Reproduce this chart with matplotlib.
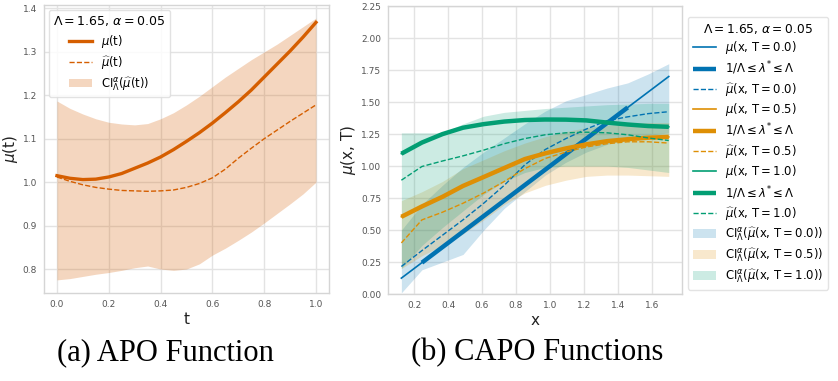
import numpy as np
import matplotlib
matplotlib.use("Agg")
import matplotlib.pyplot as plt

# ---------------- data: (a) APO function ----------------
t_vals = [0.0, 0.05, 0.1, 0.15, 0.2, 0.25, 0.3, 0.35, 0.4, 0.45, 0.5,
          0.55, 0.6, 0.65, 0.7, 0.75, 0.8, 0.85, 0.9, 0.95, 1.0]
mu_t = [1.015, 1.009, 1.006, 1.007, 1.012, 1.020, 1.032, 1.044, 1.058, 1.075, 1.094,
        1.114, 1.136, 1.160, 1.185, 1.212, 1.242, 1.272, 1.302, 1.334, 1.368]
mu_hat_t = [1.012, 1.002, 0.994, 0.988, 0.984, 0.981, 0.980, 0.979, 0.980, 0.982, 0.988,
            0.997, 1.010, 1.030, 1.055, 1.078, 1.100, 1.120, 1.140, 1.159, 1.178]
ci_low_t = [0.775, 0.778, 0.783, 0.788, 0.792, 0.797, 0.803, 0.807, 0.800, 0.797, 0.800,
            0.812, 0.832, 0.848, 0.866, 0.885, 0.906, 0.928, 0.950, 0.973, 1.000]
ci_high_t = [1.187, 1.170, 1.157, 1.146, 1.138, 1.134, 1.132, 1.135, 1.146, 1.160, 1.178,
             1.198, 1.220, 1.242, 1.262, 1.282, 1.300, 1.318, 1.338, 1.358, 1.378]

# ---------------- data: (b) CAPO functions ----------------
x_vals = [0.125, 0.246, 0.367, 0.488, 0.610, 0.731, 0.852, 0.973, 1.094, 1.215, 1.337, 1.458, 1.579, 1.700]
T_labels = ["0.0", "0.5", "1.0"]

mu_T0 = [0.125, 0.246, 0.367, 0.488, 0.610, 0.731, 0.852, 0.973, 1.094, 1.215, 1.337, 1.458, 1.579, 1.700]
bound_T0 = [np.nan, 0.246, 0.367, 0.488, 0.610, 0.731, 0.852, 0.973, 1.094, 1.215, 1.337, 1.458, np.nan, np.nan]
hat_T0 = [0.216, 0.340, 0.460, 0.580, 0.710, 0.850, 1.010, 1.130, 1.215, 1.290, 1.355, 1.385, 1.410, 1.425]
lo_T0 = [0.010, 0.190, 0.250, 0.310, 0.500, 0.670, 0.800, 0.930, 1.030, 1.110, 1.170, 1.210, 1.240, 1.260]
hi_T0 = [0.500, 0.700, 0.850, 0.990, 1.110, 1.220, 1.330, 1.430, 1.510, 1.560, 1.610, 1.650, 1.720, 1.800]

mu_T5 = [0.604, 0.685, 0.760, 0.845, 0.915, 0.985, 1.055, 1.100, 1.138, 1.170, 1.195, 1.210, 1.222, 1.228]
bound_T5 = [0.604, 0.685, 0.760, 0.845, 0.915, 0.985, 1.055, 1.100, 1.138, 1.170, 1.195, 1.210, 1.222, 1.228]
hat_T5 = [0.400, 0.580, 0.640, 0.710, 0.790, 0.880, 0.980, 1.060, 1.110, 1.150, 1.175, 1.190, 1.190, 1.180]
lo_T5 = [0.200, 0.300, 0.380, 0.470, 0.580, 0.700, 0.790, 0.850, 0.890, 0.920, 0.930, 0.930, 0.925, 0.920]
hi_T5 = [0.730, 0.800, 0.880, 0.980, 1.050, 1.120, 1.180, 1.230, 1.270, 1.300, 1.320, 1.330, 1.340, 1.340]

mu_T1 = [1.097, 1.184, 1.250, 1.300, 1.328, 1.348, 1.360, 1.364, 1.363, 1.357, 1.340, 1.325, 1.313, 1.307]
bound_T1 = [1.097, 1.184, 1.250, 1.300, 1.328, 1.348, 1.360, 1.364, 1.363, 1.357, 1.340, 1.325, 1.313, 1.307]
hat_T1 = [0.890, 0.997, 1.040, 1.080, 1.125, 1.175, 1.215, 1.245, 1.260, 1.265, 1.260, 1.245, 1.220, 1.200]
lo_T1 = [0.200, 0.380, 0.520, 0.650, 0.780, 0.880, 0.950, 0.990, 1.000, 1.000, 1.000, 0.990, 0.970, 0.950]
hi_T1 = [1.260, 1.260, 1.260, 1.330, 1.390, 1.420, 1.435, 1.450, 1.460, 1.470, 1.480, 1.485, 1.490, 1.490]

# ---------------- style ----------------
plt.rcParams.update({
    "font.family": ["DejaVu Sans"],
    "axes.edgecolor": "#d5d5d5",
    "axes.linewidth": 1.0,
    "grid.color": "#e3e3e3",
    "grid.linewidth": 1.0,
    "xtick.color": "#555555",
    "ytick.color": "#555555",
    "xtick.labelsize": 6.5,
    "ytick.labelsize": 6.5,
    "xtick.major.size": 0,
    "ytick.major.size": 0,
    "xtick.major.pad": 5,
    "ytick.major.pad": 5,
    "axes.labelcolor": "#222222",
    "legend.edgecolor": "#dddddd",
})

c_red = "#d55e00"
colors = ["#0173b2", "#de8f05", "#029e73"]

fig = plt.figure(figsize=(8.38, 3.81), dpi=100)
ax1 = fig.add_axes([0.0525, 0.231, 0.340, 0.756])
ax2 = fig.add_axes([0.463, 0.228, 0.351, 0.756])

for ax in (ax1, ax2):
    ax.grid(True)
    ax.set_axisbelow(True)

# ---- (a) ----
ax1.plot(t_vals, mu_t, color=c_red, lw=2.4, label=r"$\mu$(t)")
ax1.plot(t_vals, mu_hat_t, color=c_red, lw=1.0, ls="--", label=r"$\widehat{\mu}$(t)")
ax1.fill_between(t_vals, ci_low_t, ci_high_t, color=c_red, alpha=0.25, lw=0,
                 label=r"CI$^{\alpha}_{\Lambda}(\widehat{\mu}$(t))")
ax1.set_xticks([0.0, 0.2, 0.4, 0.6, 0.8, 1.0])
ax1.set_yticks([0.8, 0.9, 1.0, 1.1, 1.2, 1.3, 1.4])
ax1.set_xlabel("t", fontsize=11, labelpad=2)
ax1.set_ylabel(r"$\mu$(t)", fontsize=11, labelpad=2)
ax1.legend(title=r"$\Lambda=1.65$, $\alpha=0.05$", loc="upper left", fontsize=8.3,
           title_fontsize=9.0, frameon=True, fancybox=True, framealpha=0.85,
           borderaxespad=0.4, labelspacing=0.38)

# ---- (b) ----
mus = [mu_T0, mu_T5, mu_T1]
bounds = [bound_T0, bound_T5, bound_T1]
hats = [hat_T0, hat_T5, hat_T1]
los = [lo_T0, lo_T5, lo_T1]
his = [hi_T0, hi_T5, hi_T1]

line_handles = []
fill_handles = []
for i in range(3):
    c = colors[i]
    h1, = ax2.plot(x_vals, mus[i], color=c, lw=1.2, label=r"$\mu$(x, T$=$" + T_labels[i] + ")")
    h2, = ax2.plot(x_vals, bounds[i], color=c, lw=3.2, solid_capstyle="butt",
                   label=r"$1/\Lambda \leq \lambda^{*} \leq \Lambda$")
    h3, = ax2.plot(x_vals, hats[i], color=c, lw=1.0, ls="--",
                   label=r"$\widehat{\mu}$(x, T$=$" + T_labels[i] + ")")
    f = ax2.fill_between(x_vals, los[i], his[i], color=c, alpha=0.2, lw=0,
                         label=r"CI$^{\alpha}_{\Lambda}(\widehat{\mu}$(x, T$=$" + T_labels[i] + "))")
    line_handles += [h1, h2, h3]
    fill_handles.append(f)

ax2.set_ylim(0, 2.25)
ax2.set_xticks([0.2, 0.4, 0.6, 0.8, 1.0, 1.2, 1.4, 1.6])
ax2.set_xticklabels(["0.2", "0.4", "0.6", "0.8", "1.0", "1.2", "1.4", "1.6"])
ax2.set_yticks(np.arange(0, 2.26, 0.25))
ax2.set_yticklabels([f"{v:.2f}" for v in np.arange(0, 2.26, 0.25)])
ax2.set_xlabel("x", fontsize=11, labelpad=2)
ax2.set_ylabel(r"$\mu$(x, T)", fontsize=11, labelpad=2)
handles = line_handles + fill_handles
ax2.legend(handles=handles, labels=[h.get_label() for h in handles],
           title=r"$\Lambda=1.65$, $\alpha=0.05$", loc="upper left",
           bbox_to_anchor=(1.02, 0.962), borderaxespad=0.0, fontsize=8.4,
           title_fontsize=8.8, labelspacing=0.3, frameon=True, fancybox=True)

# ---- captions ----
fig.text(0.197, 0.075, "(a) APO Function", fontsize=22, family="Liberation Serif",
         ha="center", va="center")
fig.text(0.641, 0.075, "(b) CAPO Functions", fontsize=22, family="Liberation Serif",
         ha="center", va="center")

fig.savefig("out.png", dpi=100)
